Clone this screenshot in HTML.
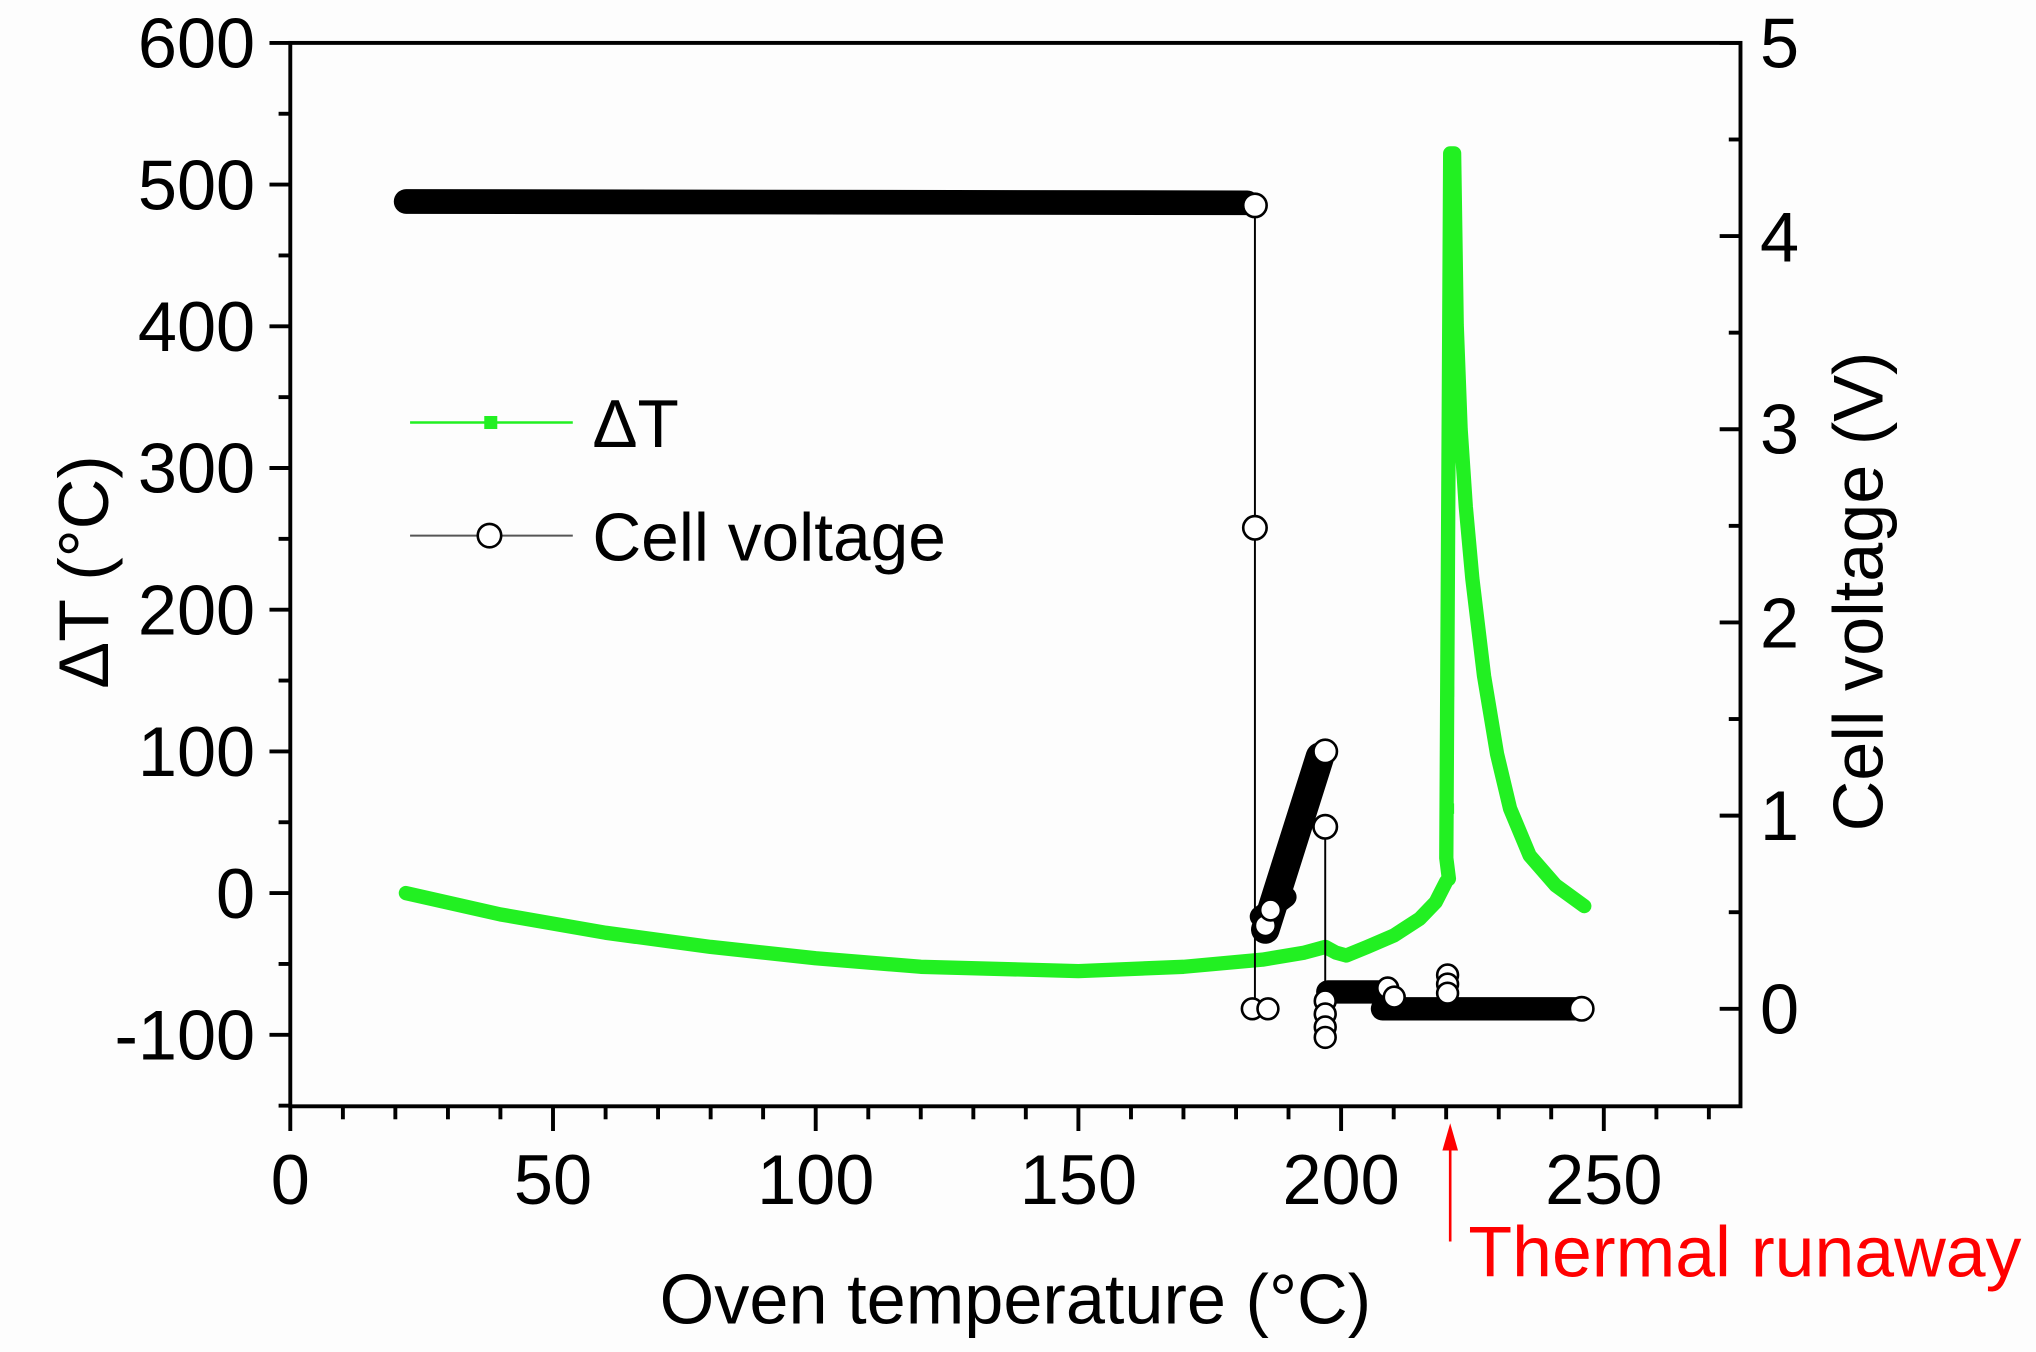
<!DOCTYPE html>
<html><head><meta charset="utf-8"><style>
html,body{margin:0;padding:0;background:#fff;}
svg{display:block;}
text{font-family:"Liberation Sans",Arial,sans-serif;fill:#000;}
</style></head><body>
<svg width="2036" height="1352" viewBox="0 0 1564 1040" preserveAspectRatio="none" xmlns="http://www.w3.org/2000/svg">
<rect width="1564" height="1040" fill="#fdfdfd"/>
<rect x="223" y="33" width="1114" height="818" fill="none" stroke="#000" stroke-width="3"/>
<g stroke="#000" stroke-width="3">
<line x1="207" y1="33" x2="223" y2="33"/><line x1="207" y1="142" x2="223" y2="142"/><line x1="207" y1="251" x2="223" y2="251"/><line x1="207" y1="360" x2="223" y2="360"/><line x1="207" y1="469" x2="223" y2="469"/><line x1="207" y1="578" x2="223" y2="578"/><line x1="207" y1="687" x2="223" y2="687"/><line x1="207" y1="796" x2="223" y2="796"/>
<line x1="214" y1="87.5" x2="223" y2="87.5"/><line x1="214" y1="196.5" x2="223" y2="196.5"/><line x1="214" y1="305.5" x2="223" y2="305.5"/><line x1="214" y1="414.5" x2="223" y2="414.5"/><line x1="214" y1="523.5" x2="223" y2="523.5"/><line x1="214" y1="632.5" x2="223" y2="632.5"/><line x1="214" y1="741.5" x2="223" y2="741.5"/><line x1="214" y1="850.5" x2="223" y2="850.5"/>
<line x1="1321" y1="33" x2="1337" y2="33"/><line x1="1321" y1="181.6" x2="1337" y2="181.6"/><line x1="1321" y1="330.2" x2="1337" y2="330.2"/><line x1="1321" y1="478.8" x2="1337" y2="478.8"/><line x1="1321" y1="627.4" x2="1337" y2="627.4"/><line x1="1321" y1="776" x2="1337" y2="776"/>
<line x1="1328" y1="107.3" x2="1337" y2="107.3"/><line x1="1328" y1="255.9" x2="1337" y2="255.9"/><line x1="1328" y1="404.5" x2="1337" y2="404.5"/><line x1="1328" y1="553.1" x2="1337" y2="553.1"/><line x1="1328" y1="701.7" x2="1337" y2="701.7"/>
<line x1="223" y1="851" x2="223" y2="870"/><line x1="424.8" y1="851" x2="424.8" y2="870"/><line x1="626.6" y1="851" x2="626.6" y2="870"/><line x1="828.4" y1="851" x2="828.4" y2="870"/><line x1="1030.2" y1="851" x2="1030.2" y2="870"/><line x1="1232" y1="851" x2="1232" y2="870"/>
<line x1="263.4" y1="851" x2="263.4" y2="861"/><line x1="303.7" y1="851" x2="303.7" y2="861"/><line x1="344.1" y1="851" x2="344.1" y2="861"/><line x1="384.4" y1="851" x2="384.4" y2="861"/><line x1="465.2" y1="851" x2="465.2" y2="861"/><line x1="505.5" y1="851" x2="505.5" y2="861"/><line x1="545.9" y1="851" x2="545.9" y2="861"/><line x1="586.2" y1="851" x2="586.2" y2="861"/><line x1="667" y1="851" x2="667" y2="861"/><line x1="707.3" y1="851" x2="707.3" y2="861"/><line x1="747.7" y1="851" x2="747.7" y2="861"/><line x1="788" y1="851" x2="788" y2="861"/><line x1="868.8" y1="851" x2="868.8" y2="861"/><line x1="909.1" y1="851" x2="909.1" y2="861"/><line x1="949.5" y1="851" x2="949.5" y2="861"/><line x1="989.8" y1="851" x2="989.8" y2="861"/><line x1="1070.6" y1="851" x2="1070.6" y2="861"/><line x1="1110.9" y1="851" x2="1110.9" y2="861"/><line x1="1151.3" y1="851" x2="1151.3" y2="861"/><line x1="1191.6" y1="851" x2="1191.6" y2="861"/><line x1="1272.4" y1="851" x2="1272.4" y2="861"/><line x1="1312.7" y1="851" x2="1312.7" y2="861"/>
</g>
<g font-size="54" text-anchor="end">
<text x="196" y="52">600</text><text x="196" y="161">500</text><text x="196" y="270">400</text><text x="196" y="379">300</text><text x="196" y="488">200</text><text x="196" y="597">100</text><text x="196" y="706">0</text><text x="196" y="815">-100</text>
</g>
<g font-size="54" text-anchor="start">
<text x="1352" y="52">5</text><text x="1352" y="201">4</text><text x="1352" y="349">3</text><text x="1352" y="498">2</text><text x="1352" y="646">1</text><text x="1352" y="795">0</text>
</g>
<g font-size="54" text-anchor="middle">
<text x="223" y="926">0</text><text x="424.8" y="926">50</text><text x="626.6" y="926">100</text><text x="828.4" y="926">150</text><text x="1030.2" y="926">200</text><text x="1232" y="926">250</text>
</g>
<text x="780" y="1018" font-size="54" text-anchor="middle">Oven temperature (°C)</text>
<text transform="translate(83,440) rotate(-90)" font-size="54" text-anchor="middle">ΔT (°C)</text>
<text transform="translate(1446,455) rotate(-90)" font-size="54" text-anchor="middle">Cell voltage (V)</text>
<polyline fill="none" stroke="#22f022" stroke-width="11" stroke-linejoin="round" stroke-linecap="round" points="311.8,687 384.4,703.4 465.2,717.5 545.9,728.4 626.6,737.1 707.3,743.7 828.4,747 909.1,743.7 969.7,738.2 1001.9,732.8 1018.1,728.4 1026.2,732.8 1034.2,735 1050.4,728.4 1070.6,719.7 1090.7,706.6 1102.8,694 1111,678"/>
<line x1="1113" y1="676" x2="1113" y2="115" stroke="#22f022" stroke-width="2"/>
<g fill="#22f022">
<rect x="1109" y="618" width="8" height="8"/><rect x="1109" y="528" width="8" height="8"/><rect x="1109" y="448" width="8" height="8"/><rect x="1109" y="398" width="8" height="8"/><rect x="1109" y="358" width="8" height="8"/><rect x="1109" y="318" width="8" height="8"/><rect x="1109" y="288" width="8" height="8"/><rect x="1109" y="258" width="8" height="8"/><rect x="1109" y="228" width="8" height="8"/><rect x="1109" y="198" width="8" height="8"/><rect x="1109" y="170" width="8" height="8"/><rect x="1109" y="145" width="8" height="8"/>
</g>
<polyline fill="none" stroke="#22f022" stroke-width="11" stroke-linejoin="round" stroke-linecap="round" points="1113,676 1111,660 1114,118 1117,118 1119,250 1122,330 1126,390 1131,445 1140,520 1150,580 1160,622 1175,658 1195,681 1217,697"/>
<g stroke="#000" fill="none">
<line x1="964" y1="158" x2="964" y2="776" stroke-width="1.5"/>
<line x1="1018" y1="636" x2="1018" y2="795" stroke-width="1.5"/>
<line x1="312" y1="155" x2="958" y2="156" stroke-width="19" stroke-linecap="round"/>
<line x1="972" y1="715" x2="1014" y2="582" stroke-width="22" stroke-linecap="round"/>
<line x1="968" y1="705" x2="988" y2="690" stroke-width="16" stroke-linecap="round"/>
<line x1="1020" y1="763" x2="1062" y2="763" stroke-width="18" stroke-linecap="round"/>
<line x1="1062" y1="776" x2="1212" y2="776" stroke-width="18" stroke-linecap="round"/>
</g>
<g stroke="#000" stroke-width="2" fill="#fff">
<circle cx="964" cy="158" r="9"/><circle cx="964" cy="406" r="9"/>
<circle cx="962" cy="776" r="8"/><circle cx="974" cy="776" r="8"/>
<circle cx="972" cy="712" r="8"/><circle cx="976" cy="700" r="8"/>
<circle cx="1018" cy="578" r="9"/><circle cx="1018" cy="636" r="9"/>
<circle cx="1018" cy="770" r="8"/><circle cx="1018" cy="780" r="8"/><circle cx="1018" cy="790" r="8"/><circle cx="1018" cy="798" r="8"/>
<circle cx="1066" cy="760" r="8"/><circle cx="1071" cy="767" r="8"/>
<circle cx="1112" cy="750" r="8"/><circle cx="1112" cy="757" r="8"/><circle cx="1112" cy="764" r="8"/>
<circle cx="1215" cy="776" r="9"/>
</g>
<line x1="315" y1="325" x2="440" y2="325" stroke="#22f022" stroke-width="2"/>
<rect x="372" y="320" width="10" height="10" fill="#22f022"/>
<text x="455" y="344" font-size="52">ΔT</text>
<line x1="315" y1="412" x2="440" y2="412" stroke="#555" stroke-width="1.5"/>
<circle cx="376" cy="412" r="9" fill="#fff" stroke="#000" stroke-width="2"/>
<text x="455" y="431" font-size="52">Cell voltage</text>
<line x1="1114" y1="955" x2="1114" y2="880" stroke="#f00" stroke-width="2"/>
<polygon points="1114,864 1108,885 1120,885" fill="#f00"/>
<text x="1128" y="982" font-size="55" style="fill:#f00">Thermal runaway</text>
</svg>
</body></html>
